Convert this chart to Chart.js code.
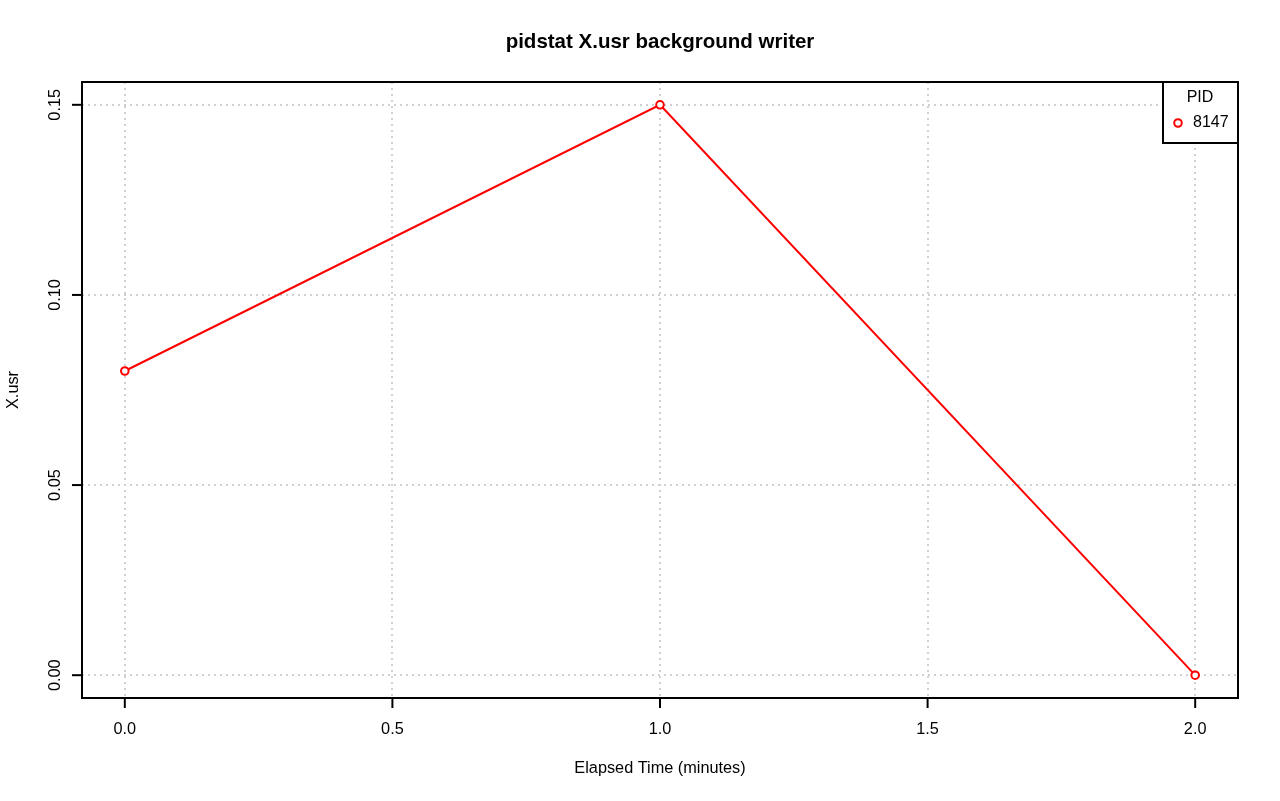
<!DOCTYPE html>
<html>
<head>
<meta charset="utf-8">
<script src="https://cdn.jsdelivr.net/npm/chart.js@4"></script>
<style>
  html, body { margin: 0; padding: 0; background: #fff; }
  canvas { display: block; }
</style>
</head>
<body>
<canvas id="chart" width="1280" height="801"></canvas>
<script>
// data
const elapsedMinutes = [0, 1, 2];
const usrValues = [0.08, 0.15, 0.0];
const pidLabel = "8147";

const xTicks = [0, 0.5, 1, 1.5, 2];
const xTickLabels = ["0.0", "0.5", "1.0", "1.5", "2.0"];
const yTicks = [0, 0.05, 0.1, 0.15];
const yTickLabels = ["0.00", "0.05", "0.10", "0.15"];

const titleText = "pidstat X.usr background writer";
const xTitle = "Elapsed Time (minutes)";
const yTitle = "X.usr";
const FONT = "'Liberation Sans', Arial, Helvetica, sans-serif";

// R style axes, grid, box, title and legend drawn around the chart area
const rDecor = {
  id: "rDecor",
  beforeDatasetsDraw(chart) {
    const { ctx, chartArea: a, scales: { x, y } } = chart;
    ctx.save();
    ctx.strokeStyle = "#d0d0d0";
    ctx.lineWidth = 2;
    ctx.setLineDash([2, 4]);
    for (const t of xTicks) {
      const px = Math.round(x.getPixelForValue(t));
      ctx.beginPath(); ctx.moveTo(px, a.top); ctx.lineTo(px, a.bottom); ctx.stroke();
    }
    for (const t of yTicks) {
      const py = Math.round(y.getPixelForValue(t));
      ctx.beginPath(); ctx.moveTo(a.left, py); ctx.lineTo(a.right, py); ctx.stroke();
    }
    ctx.restore();
  },
  afterDatasetsDraw(chart) {
    const { ctx, chartArea: a, scales: { x, y } } = chart;
    ctx.save();
    ctx.strokeStyle = "#000";
    ctx.fillStyle = "#000";
    ctx.lineWidth = 2;
    ctx.setLineDash([]);
    ctx.strokeRect(a.left, a.top, a.right - a.left, a.bottom - a.top);

    // ticks + labels
    ctx.font = "16.3px " + FONT;
    ctx.textAlign = "center";
    ctx.textBaseline = "middle";
    xTicks.forEach((t, i) => {
      const px = x.getPixelForValue(t);
      ctx.beginPath(); ctx.moveTo(px, a.bottom); ctx.lineTo(px, a.bottom + 10); ctx.stroke();
      ctx.fillText(xTickLabels[i], px, a.bottom + 32);
    });
    yTicks.forEach((t, i) => {
      const py = y.getPixelForValue(t);
      ctx.beginPath(); ctx.moveTo(a.left, py); ctx.lineTo(a.left - 10, py); ctx.stroke();
      ctx.save();
      ctx.translate(a.left - 26, py);
      ctx.rotate(-Math.PI / 2);
      ctx.fillText(yTickLabels[i], 0, 0);
      ctx.restore();
    });

    // axis titles
    const cx = (a.left + a.right) / 2;
    ctx.fillText(xTitle, cx, a.bottom + 71);
    ctx.save();
    ctx.translate(14, (a.top + a.bottom) / 2);
    ctx.rotate(-Math.PI / 2);
    ctx.fillText(yTitle, 0, 0);
    ctx.restore();

    // main title
    ctx.font = "bold 20.5px " + FONT;
    ctx.fillText(titleText, cx, 42);

    // legend box
    const lx = a.right - 75, ly = a.top, lw = 75, lh = 61;
    ctx.fillStyle = "#fff";
    ctx.fillRect(lx, ly, lw, lh);
    ctx.lineWidth = 2;
    ctx.strokeRect(lx, ly, lw, lh);
    ctx.fillStyle = "#000";
    ctx.font = "16px " + FONT;
    ctx.fillText("PID", lx + 37, ly + 16);
    ctx.textAlign = "left";
    ctx.fillText(pidLabel, lx + 30, ly + 41);
    ctx.strokeStyle = "#ff0000";
    ctx.lineWidth = 2;
    ctx.beginPath();
    ctx.arc(lx + 15, ly + 41, 3.8, 0, Math.PI * 2);
    ctx.stroke();
    ctx.restore();
  }
};

new Chart(document.getElementById("chart"), {
  type: "line",
  data: {
    datasets: [{
      label: pidLabel,
      data: elapsedMinutes.map((m, i) => ({ x: m, y: usrValues[i] })),
      borderColor: "#ff0000",
      borderWidth: 2,
      pointRadius: 3.8,
      pointBorderWidth: 2,
      pointBorderColor: "#ff0000",
      pointBackgroundColor: "#ffffff",
      tension: 0,
      fill: false
    }]
  },
  options: {
    responsive: false,
    animation: false,
    devicePixelRatio: 1,
    layout: { padding: { left: 82, top: 82, right: 42, bottom: 103 } },
    scales: {
      x: { type: "linear", min: -0.08, max: 2.08, display: false },
      y: { type: "linear", min: -0.006, max: 0.156, display: false }
    },
    plugins: {
      legend: { display: false },
      title: { display: false },
      tooltip: { enabled: false }
    }
  },
  plugins: [rDecor]
});
</script>
</body>
</html>
